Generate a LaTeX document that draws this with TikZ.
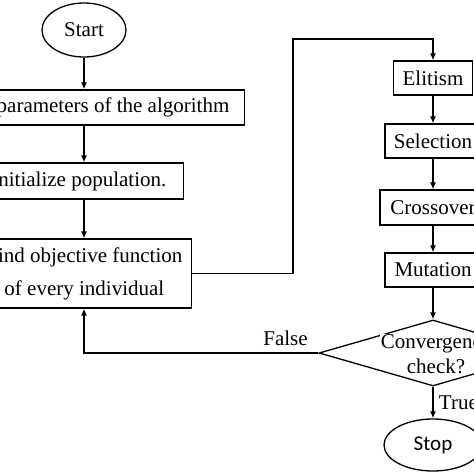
\documentclass[tikz,border=0pt]{standalone}
\usepackage{fontspec}
\setmainfont{Liberation Serif}
\newfontfamily\stopfont{Carlito}
\usepackage{tikz}
\usetikzlibrary{shapes.geometric,arrows.meta}
\tikzstyle{chart}=[
  >={Latex[length=7pt,width=6pt]},x=1pt,y=-1pt,line width=1.3pt,
  font=\fontsize{21}{33}\selectfont
]
\tikzstyle{terminal}=[
  draw,ellipse,inner sep=0pt,fill=white
]
\tikzstyle{process}=[
  draw,rectangle,inner ysep=0pt,align=center,fill=white
]
\tikzstyle{decision}=[
  draw,diamond,inner sep=0pt,fill=white
]
\tikzstyle{masked}=[
  fill=white,inner sep=0.5pt,anchor=base
]

\begin{document}
\begin{tikzpicture}[chart]
    \useasboundingbox (0,0) rectangle (474,474);
    % left column
    \node[terminal,minimum width=84pt,minimum height=54pt] (start) at (84,30) {Start};
    \node[process,anchor=east,inner xsep=15pt,minimum height=35pt] (params) at (245,107.5) {Set parameters of the algorithm};
    \node[process,anchor=east,inner xsep=17pt,minimum height=36pt] (init) at (184,181) {Initialize population.};
    \node[process,anchor=east,inner xsep=9pt,minimum height=69pt] (find) at (192,273.5) {Find objective function\\of every individual};
    % right column
    \node[process,minimum width=79pt,minimum height=34pt] (elitism) at (433,78) {Elitism};
    \node[process,minimum width=96pt,minimum height=34pt] (selection) at (433,141) {Selection};
    \node[process,minimum width=106pt,minimum height=35pt] (crossover) at (433,207.5) {Crossover};
    \node[process,minimum width=96pt,minimum height=34pt] (mutation) at (433,270) {Mutation};
    \node[decision,minimum width=228pt,minimum height=66pt] (conv) at (433,353) {};
    \node[masked] (convtop) at (436,348) {Convergence};
    \node[masked] (convbot) at (436,373) {check?};
    \node[terminal,minimum width=98pt,minimum height=52pt,font=\fontsize{21}{24}\stopfont] (stop) at (433,445) {Stop};
    \coordinate (loop) at (293,39);
    % arrows
    \draw[->] (start.south) -- (start.south |- params.north);
    \draw[->] (start.south |- params.south) -- (start.south |- init.north);
    \draw[->] (start.south |- init.south) -- (start.south |- find.north);
    \draw[->] (find.east) -| (loop) -| (elitism.north);
    \draw[->] (elitism) -- (selection);
    \draw[->] (selection) -- (crossover);
    \draw[->] (crossover) -- (mutation);
    \draw[->] (mutation) -- (conv.north);
    \draw[->] (conv.west) -| node[pos=0.07,above=3pt] (false) {False} (start.south |- find.south);
    \draw[->] (conv.south) -- node[right=2pt,pos=0.5] (true) {True} (stop.north);
\end{tikzpicture}
\end{document}
